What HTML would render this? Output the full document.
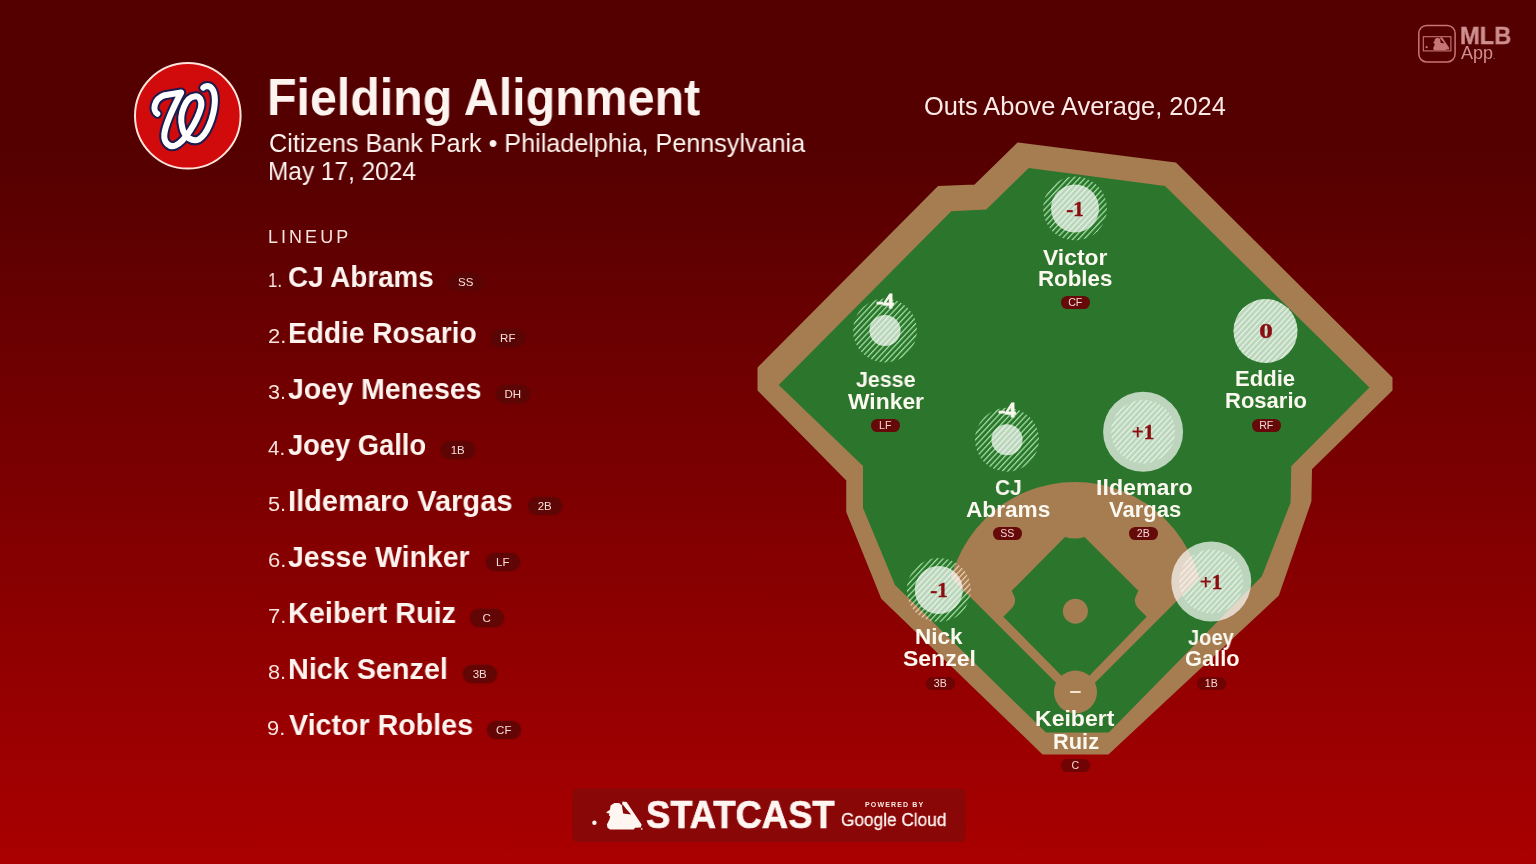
<!DOCTYPE html>
<html>
<head>
<meta charset="utf-8">
<title>Fielding Alignment</title>
<style>
html,body{margin:0;padding:0;}
body{width:1536px;height:864px;overflow:hidden;position:relative;
  font-family:"Liberation Sans",sans-serif;color:#fdf1ee;
  background:linear-gradient(180deg,#540001 0px,#540001 150px,#aa0001 864px);}
.tx{position:absolute;white-space:nowrap;transform-origin:0 0;will-change:transform;}
.pl{will-change:transform;position:absolute;width:33.5px;height:17.5px;border-radius:9px;background:rgba(86,6,6,.8);box-shadow:0 0 2px rgba(86,6,6,.7);
  font-size:11.5px;line-height:18px;text-align:center;color:#f6dfdb;}
#field{position:absolute;left:0;top:0;}
.pb{will-change:transform;position:absolute;width:28.5px;height:12.6px;margin-left:-14.25px;margin-top:-6.3px;border-radius:6.3px;background:#650909;color:#f7d6d6;
  font-size:10.6px;line-height:13.2px;text-align:center;}
.pb.t{background:rgba(92,4,4,.7);}
.v{will-change:transform;position:absolute;font-family:"Liberation Serif",serif;font-weight:bold;font-size:21px;line-height:20px;width:60px;margin-left:-30px;margin-top:-9.9px;text-align:center;color:#8a0d11;-webkit-text-stroke:.4px #8a0d11;}
.v.w{color:#fbf8ef;-webkit-text-stroke:.8px #fbf8ef;}
#foot{position:absolute;left:572.3px;top:788.5px;width:393.5px;height:53.5px;border-radius:5px;background:#890707;}
</style>
</head>
<body>
<svg id="field" width="1536" height="864" viewBox="0 0 1536 864">
  <defs>
    <pattern id="hatch" width="4.1" height="4.1" patternUnits="userSpaceOnUse" patternTransform="rotate(-47)">
      <rect x="0" y="0" width="4.1" height="1.25" fill="#c6ffc8" fill-opacity=".78"/>
    </pattern>
    <pattern id="tanhatch" width="4.1" height="4.1" patternUnits="userSpaceOnUse" patternTransform="rotate(-47)">
      <rect x="0" y="0" width="4.1" height="4.1" fill="#a57d51"/>
      <rect x="0" y="0" width="4.1" height="1.25" fill="#ffe3cc" fill-opacity=".8"/>
    </pattern>
    <clipPath id="sg">
      <circle cx="938.75" cy="590" r="32"/><circle cx="1211.25" cy="581.5" r="32"/>
    </clipPath>
    <clipPath id="fair">
      <polygon points="1075.5,702 703.5,330 703.5,100 1447.5,100 1447.5,330"/>
    </clipPath>
  </defs>
  <!-- warning track -->
  <polygon fill="#a57d51" stroke="#a57d51" stroke-width="2" stroke-linejoin="round"
    points="1043,753.5 882,598 847.25,512 847.25,480 758.5,390 758.5,368 938.5,187 975,185.4 1018,143.4 1175.5,163.4 1391.5,378 1391.5,390 1311,468.75 1310.4,501.25 1278,595 1108,753.5"/>
  <!-- grass -->
  <polygon fill="#2b752c"
    points="1046,732.5 895,585 863,508 863,466 778.75,385 951.25,211.25 986.25,209.4 1028.75,168 1165,186 1369.4,387.5 1291.25,466.25 1290.6,502.5 1261.9,576.25 1108.75,732.5"/>
  <!-- infield dirt -->
  <g clip-path="url(#fair)">
    <circle cx="1075" cy="610" r="128" fill="#a57d51"/>
  </g>
  <polygon fill="#a57d51" points="1065.5,692 1080,692 973,585 958.5,585"/>
  <polygon fill="#a57d51" points="1085.5,692 1071,692 1178,585 1192.5,585"/>
  <!-- infield grass -->
  <path fill="#2b752c" d="M1075.5,690 L1003.3,616.7 L1012.5,607.5 Q1016.5,602 1014.5,597 L1011.7,590.8 L1065,537 Q1075,540 1084.5,537 L1138.3,590.8 L1135.5,597 Q1133.5,602 1137.5,607.5 L1146.7,616.7 Z"/>
  <circle cx="1075.4" cy="611.2" r="12.5" fill="#a57d51"/>
  <circle cx="1075.5" cy="692" r="21.5" fill="#a57d51"/>
  <rect x="1070.2" y="691" width="10.5" height="2" fill="#f6e6cf"/>
  <!-- fielders -->
  <g fill="url(#hatch)">
    <circle cx="1075" cy="208.5" r="32"/>
    <circle cx="885" cy="330.5" r="32"/>
    <circle cx="1007" cy="439.75" r="32"/>
    <circle cx="1265.5" cy="331" r="32"/>
    <circle cx="1143.1" cy="431.7" r="32"/>
    <circle cx="938.75" cy="590" r="32"/>
    <circle cx="1211.25" cy="581.5" r="32"/>
  </g>
  <g clip-path="url(#sg)" fill="url(#tanhatch)">
    <path fill-rule="evenodd" d="M1043,753.5 L882,598 L847.25,512 L847.25,480 L758.5,390 L758.5,368 L938.5,187 L975,185.4 L1018,143.4 L1175.5,163.4 L1391.5,378 L1391.5,390 L1311,468.75 L1310.4,501.25 L1278,595 L1108,753.5 Z M1046,732.5 L895,585 L863,508 L863,466 L778.75,385 L951.25,211.25 L986.25,209.4 L1028.75,168 L1165,186 L1369.4,387.5 L1291.25,466.25 L1290.6,502.5 L1261.9,576.25 L1108.75,732.5 Z"/>
    <g clip-path="url(#fair)"><circle cx="1075" cy="610" r="128"/></g>
    <polygon points="1065.5,692 1080,692 973,585 958.5,585"/><polygon points="1085.5,692 1071,692 1178,585 1192.5,585"/>
  </g>
  <g fill="#fff" fill-opacity=".69">
    <circle cx="1075" cy="208.5" r="24"/>
    <circle cx="885" cy="330.5" r="15.6"/>
    <circle cx="1007" cy="439.75" r="15.6"/>
    <circle cx="1265.5" cy="331" r="32"/>
    <circle cx="1143.1" cy="431.7" r="40"/>
    <circle cx="938.75" cy="590" r="24"/>
    <circle cx="1211.25" cy="581.5" r="40"/>
  </g>
</svg>

<!-- OAA values -->
<div class="v" style="left:1075px;top:208.5px">-1</div>
<div class="v w" style="left:884.6px;top:300.4px">-4</div>
<div class="v w" style="left:1007px;top:409.6px">-4</div>
<div class="v" style="left:1266px;top:331.2px;transform:scaleX(1.3)">0</div>
<div class="v" style="left:1143.1px;top:431.7px">+1</div>
<div class="v" style="left:938.75px;top:590px">-1</div>
<div class="v" style="left:1211.25px;top:581.5px">+1</div>

<!-- position badges on field -->
<div class="pb" style="left:1075.25px;top:302.5px">CF</div>
<div class="pb" style="left:884.75px;top:425px">LF</div>
<div class="pb" style="left:1007px;top:533.6px">SS</div>
<div class="pb" style="left:1143.4px;top:533.75px">2B</div>
<div class="pb" style="left:1266px;top:425px">RF</div>
<div class="pb t" style="left:939.8px;top:683.5px">3B</div>
<div class="pb t" style="left:1211px;top:683.5px">1B</div>
<div class="pb t" style="left:1075.3px;top:765.6px">C</div>

<div class="tx" style="left:267.00px;top:71.46px;font:bold 52.50px/1 'Liberation Sans';color:#fdf3ef;transform:scaleX(0.9206);">Fielding Alignment</div>
<div class="tx" style="left:269.01px;top:131.38px;font:normal 25.30px/1 'Liberation Sans';color:#fdf3ef;transform:scaleX(0.9947);">Citizens Bank Park • Philadelphia, Pennsylvania</div>
<div class="tx" style="left:268.08px;top:158.58px;font:normal 25.30px/1 'Liberation Sans';color:#fdf3ef;transform:scaleX(0.9648);">May 17, 2024</div>
<div class="tx" style="left:267.98px;top:228.90px;font:normal 17.60px/1 'Liberation Sans';color:#f7e3df;transform:scaleX(1.0201);letter-spacing:3px;">LINEUP</div>
<div class="tx" style="left:923.98px;top:94.24px;font:normal 25.00px/1 'Liberation Sans';color:#fbeae6;transform:scaleX(1.0162);">Outs Above Average, 2024</div>
<div class="tx" style="left:288.07px;top:262.25px;font:bold 30.30px/1 'Liberation Sans';color:#fdf3ef;transform:scaleX(0.9172);">CJ Abrams</div>
<div class="tx" style="left:267.75px;top:271.31px;font:normal 19.60px/1 'Liberation Sans';color:#f9e2dd;transform:scaleX(0.8557);">1.</div>
<div class="tx" style="left:288.34px;top:318.25px;font:bold 30.30px/1 'Liberation Sans';color:#fdf3ef;transform:scaleX(0.9260);">Eddie Rosario</div>
<div class="tx" style="left:268.40px;top:327.31px;font:normal 19.60px/1 'Liberation Sans';color:#f9e2dd;transform:scaleX(1.1172);">2.</div>
<div class="tx" style="left:288.35px;top:374.25px;font:bold 30.30px/1 'Liberation Sans';color:#fdf3ef;transform:scaleX(0.9422);">Joey Meneses</div>
<div class="tx" style="left:267.78px;top:383.31px;font:normal 19.60px/1 'Liberation Sans';color:#f9e2dd;transform:scaleX(1.1024);">3.</div>
<div class="tx" style="left:288.39px;top:430.25px;font:bold 30.30px/1 'Liberation Sans';color:#fdf3ef;transform:scaleX(0.9010);">Joey Gallo</div>
<div class="tx" style="left:268.49px;top:439.31px;font:normal 19.60px/1 'Liberation Sans';color:#f9e2dd;transform:scaleX(1.0472);">4.</div>
<div class="tx" style="left:288.13px;top:486.25px;font:bold 30.30px/1 'Liberation Sans';color:#fdf3ef;transform:scaleX(0.9591);">Ildemaro Vargas</div>
<div class="tx" style="left:267.57px;top:495.31px;font:normal 19.60px/1 'Liberation Sans';color:#f9e2dd;transform:scaleX(1.1103);">5.</div>
<div class="tx" style="left:288.36px;top:542.25px;font:bold 30.30px/1 'Liberation Sans';color:#fdf3ef;transform:scaleX(0.9392);">Jesse Winker</div>
<div class="tx" style="left:268.37px;top:551.31px;font:normal 19.60px/1 'Liberation Sans';color:#f9e2dd;transform:scaleX(1.1246);">6.</div>
<div class="tx" style="left:288.28px;top:598.25px;font:bold 30.30px/1 'Liberation Sans';color:#fdf3ef;transform:scaleX(0.9508);">Keibert Ruiz</div>
<div class="tx" style="left:268.37px;top:607.31px;font:normal 19.60px/1 'Liberation Sans';color:#f9e2dd;transform:scaleX(1.1246);">7.</div>
<div class="tx" style="left:288.29px;top:654.25px;font:bold 30.30px/1 'Liberation Sans';color:#fdf3ef;transform:scaleX(0.9491);">Nick Senzel</div>
<div class="tx" style="left:267.57px;top:663.31px;font:normal 19.60px/1 'Liberation Sans';color:#f9e2dd;transform:scaleX(1.1110);">8.</div>
<div class="tx" style="left:288.76px;top:710.25px;font:bold 30.30px/1 'Liberation Sans';color:#fdf3ef;transform:scaleX(0.9452);">Victor Robles</div>
<div class="tx" style="left:267.43px;top:719.31px;font:normal 19.60px/1 'Liberation Sans';color:#f9e2dd;transform:scaleX(1.1165);">9.</div>
<div class="tx" style="left:1043.00px;top:246.55px;font:bold 21.80px/1 'Liberation Sans';color:#fbf8ef;transform:scaleX(1.0484);">Victor</div>
<div class="tx" style="left:1038.46px;top:268.30px;font:bold 21.80px/1 'Liberation Sans';color:#fbf8ef;transform:scaleX(1.0226);">Robles</div>
<div class="tx" style="left:855.75px;top:368.55px;font:bold 21.80px/1 'Liberation Sans';color:#fbf8ef;transform:scaleX(0.9833);">Jesse</div>
<div class="tx" style="left:847.60px;top:390.80px;font:bold 21.80px/1 'Liberation Sans';color:#fbf8ef;transform:scaleX(1.0484);">Winker</div>
<div class="tx" style="left:994.67px;top:476.85px;font:bold 21.80px/1 'Liberation Sans';color:#fbf8ef;transform:scaleX(0.9582);">CJ</div>
<div class="tx" style="left:965.74px;top:499.35px;font:bold 21.80px/1 'Liberation Sans';color:#fbf8ef;transform:scaleX(1.0386);">Abrams</div>
<div class="tx" style="left:1095.78px;top:476.85px;font:bold 21.80px/1 'Liberation Sans';color:#fbf8ef;transform:scaleX(1.0640);">Ildemaro</div>
<div class="tx" style="left:1108.87px;top:499.35px;font:bold 21.80px/1 'Liberation Sans';color:#fbf8ef;transform:scaleX(1.0088);">Vargas</div>
<div class="tx" style="left:1235.12px;top:367.80px;font:bold 21.80px/1 'Liberation Sans';color:#fbf8ef;transform:scaleX(1.0128);">Eddie</div>
<div class="tx" style="left:1224.73px;top:390.30px;font:bold 21.80px/1 'Liberation Sans';color:#fbf8ef;transform:scaleX(1.0100);">Rosario</div>
<div class="tx" style="left:915.23px;top:626.35px;font:bold 21.80px/1 'Liberation Sans';color:#fbf8ef;transform:scaleX(1.0325);">Nick</div>
<div class="tx" style="left:903.44px;top:648.45px;font:bold 21.80px/1 'Liberation Sans';color:#fbf8ef;transform:scaleX(1.0542);">Senzel</div>
<div class="tx" style="left:1187.57px;top:626.85px;font:bold 21.80px/1 'Liberation Sans';color:#fbf8ef;transform:scaleX(0.9228);">Joey</div>
<div class="tx" style="left:1184.66px;top:648.45px;font:bold 21.80px/1 'Liberation Sans';color:#fbf8ef;transform:scaleX(0.9980);">Gallo</div>
<div class="tx" style="left:1034.95px;top:708.45px;font:bold 21.80px/1 'Liberation Sans';color:#fbf8ef;transform:scaleX(1.0571);">Keibert</div>
<div class="tx" style="left:1052.50px;top:730.95px;font:bold 21.80px/1 'Liberation Sans';color:#fbf8ef;transform:scaleX(1.0013);">Ruiz</div>
<div class="pl" style="left:448.50px;top:272.75px">SS</div>
<div class="pl" style="left:491.05px;top:328.75px">RF</div>
<div class="pl" style="left:496.35px;top:384.75px">DH</div>
<div class="pl" style="left:441.15px;top:440.75px">1B</div>
<div class="pl" style="left:527.65px;top:496.75px">2B</div>
<div class="pl" style="left:486.45px;top:552.75px">LF</div>
<div class="pl" style="left:470.35px;top:608.75px">C</div>
<div class="pl" style="left:463.00px;top:664.75px">3B</div>
<div class="pl" style="left:486.95px;top:720.75px">CF</div>


<svg style="position:absolute;left:0;top:0" width="1536" height="864" viewBox="0 0 1536 864">
  <defs>
    <g id="batter">
      <polygon points="606.6,812.1 610.0,809.8 610.6,805.4 614.4,802.9 619.1,803.1 621.9,805.4 622.5,801.4 626.6,801.9 641.6,824.5 640.9,827.6 635.0,827.8 633.8,829.5 610.0,829.5 607.5,827.8 606.9,824.5 609.4,819.5 610.3,816.4 608.8,815.2 609.5,813.6 606.6,812.9"/>
    </g>
  </defs>
  <!-- Nationals logo -->
  <circle cx="187.8" cy="115.8" r="52.8" fill="#d10a0c" stroke="#fde3dc" stroke-width="2"/>
  <g transform="translate(148,80) scale(0.0833333)" fill="none" stroke-linecap="round" stroke-linejoin="round">
    <path d="M112,405 C55,370 60,232 200,182 L398,150 C330,280 215,500 196,648 C186,756 260,814 330,786 C440,738 590,500 636,330 C655,240 612,184 556,198 C462,204 366,400 410,565 C436,696 540,746 610,712 C706,658 790,450 802,272 C808,150 772,74 714,72 C692,72 674,80 664,92" stroke="#1d1b4e" stroke-width="122"/>
    <path d="M112,405 C55,370 60,232 200,182 L398,150 C330,280 215,500 196,648 C186,756 260,814 330,786 C440,738 590,500 636,330 C655,240 612,184 556,198 C462,204 366,400 410,565 C436,696 540,746 610,712 C706,658 790,450 802,272 C808,150 772,74 714,72 C692,72 674,80 664,92" stroke="#ffffff" stroke-width="72"/>
  </g>

  <!-- MLB App logo (top-right) -->
  <g fill="#c67676" stroke="none">
    <rect x="1418.8" y="25.5" width="36.3" height="36.4" rx="7.8" ry="7.8" fill="none" stroke="#c67676" stroke-width="1.5"/>
    <rect x="1423.3" y="36.7" width="27.6" height="14.2" fill="none" stroke="#c67676" stroke-width="1.1"/>
    <g transform="translate(1433,50.3) scale(0.465) translate(-606.6,-829.5)">
      <use href="#batter"/>
      <polygon fill="#540001" points="622.4,803.9 625.9,808.4 631.1,814.4 623.2,813.6 622.0,806.4"/>
    </g>
    <circle cx="1426.6" cy="47.2" r="1.1"/>
  </g>

  <!-- Statcast footer -->
  <rect x="572.3" y="788.5" width="393.5" height="53.5" rx="5" ry="5" fill="#890707"/>
  <g fill="#fff6f2">
    <circle cx="594.4" cy="822.8" r="2.2"/>
    <use href="#batter"/>
    <polygon fill="#890707" points="622.4,803.9 625.9,808.4 631.1,814.4 623.2,813.6 622.0,806.4"/>
    <circle cx="641.8" cy="828.9" r=".8"/>
  </g>
</svg>
<div class="tx" style="left:1459.8px;top:24.1px;font:bold 24px/1 'Liberation Sans';color:#cf8f8f;transform:scaleX(.985);-webkit-text-stroke:.4px #cf8f8f;">MLB</div>
<div class="tx" style="left:1460.6px;top:44.9px;font:normal 17.5px/1 'Liberation Sans';color:#cf8f8f;transform:scaleX(1.03);">App<span style="font-size:8px">.</span></div>

<div class="tx" id="statcast" style="left:645.6px;top:796.3px;font:bold 38.5px/1 'Liberation Sans';color:#fff6f2;transform:scaleX(.945);-webkit-text-stroke:.7px #fff6f2;">STATCAST</div>
<div class="tx" style="left:865px;top:801.4px;font:bold 7px/1 'Liberation Sans';color:#fbe9e4;letter-spacing:1.15px;">POWERED BY</div>
<div class="tx" id="gcloud" style="left:841.4px;top:809.6px;font:normal 19.2px/1 'Liberation Sans';color:#fff2ee;transform:scaleX(.898);-webkit-text-stroke:.3px #fff2ee;">Google Cloud</div>

</body>
</html>
